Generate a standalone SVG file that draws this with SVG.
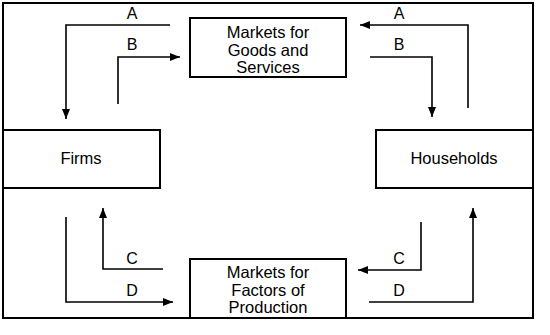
<svg xmlns="http://www.w3.org/2000/svg" width="550" height="335" viewBox="0 0 550 335">
<style>
.box{fill:#fff;stroke:#000;stroke-width:2}
.t{font-family:"Liberation Sans",Arial,sans-serif;font-size:16.5px;fill:#000;text-anchor:middle}
.l{font-family:"Liberation Sans",Arial,sans-serif;font-size:16px;fill:#000;text-anchor:middle}
.c{fill:none;stroke:#000;stroke-width:1.6}
</style>
<defs>
<marker id="ah" viewBox="0 0 10 10" refX="10" refY="5" markerWidth="10" markerHeight="10" markerUnits="userSpaceOnUse" orient="auto">
<path d="M0,1 L10,5 L0,9 z" fill="#000"/>
</marker>
</defs>
<rect x="0" y="0" width="550" height="335" fill="#fff"/>
<rect id="frame" x="3" y="3" width="530" height="315" fill="none" stroke="#000" stroke-width="2"/>
<g id="firms"><rect class="box" x="3" y="130" width="157" height="58"/><text class="t" x="81" y="164">Firms</text></g>
<g id="households"><rect class="box" x="376" y="130" width="157" height="58"/><text class="t" x="454" y="164">Households</text></g>
<g id="goods"><rect class="box" x="190" y="18" width="156" height="59"/><text class="t" x="268" y="38">Markets for</text><text class="t" x="268" y="56">Goods and</text><text class="t" x="268" y="73">Services</text></g>
<g id="factors"><rect class="box" x="190" y="259" width="156" height="59"/><text class="t" x="268" y="278">Markets for</text><text class="t" x="268" y="296">Factors of</text><text class="t" x="268" y="313">Production</text></g>
<g id="connectors">
<polyline class="c" points="170,25 66,25 66,119" marker-end="url(#ah)"/>
<polyline class="c" points="118,104 118,57 180,57" marker-end="url(#ah)"/>
<polyline class="c" points="468,108 468,25 360,25" marker-end="url(#ah)"/>
<polyline class="c" points="370,57 432,57 432,117" marker-end="url(#ah)"/>
<polyline class="c" points="163,269 103,269 103,208" marker-end="url(#ah)"/>
<polyline class="c" points="66,217 66,302 173,302" marker-end="url(#ah)"/>
<polyline class="c" points="421,222 421,270 358,270" marker-end="url(#ah)"/>
<polyline class="c" points="369,302 473,302 473,208" marker-end="url(#ah)"/>
<text class="l" x="132" y="19">A</text>
<text class="l" x="132" y="50">B</text>
<text class="l" x="399" y="19">A</text>
<text class="l" x="399" y="50">B</text>
<text class="l" x="132" y="264">C</text>
<text class="l" x="132" y="296">D</text>
<text class="l" x="399" y="264">C</text>
<text class="l" x="399" y="296">D</text>
</g>
</svg>
